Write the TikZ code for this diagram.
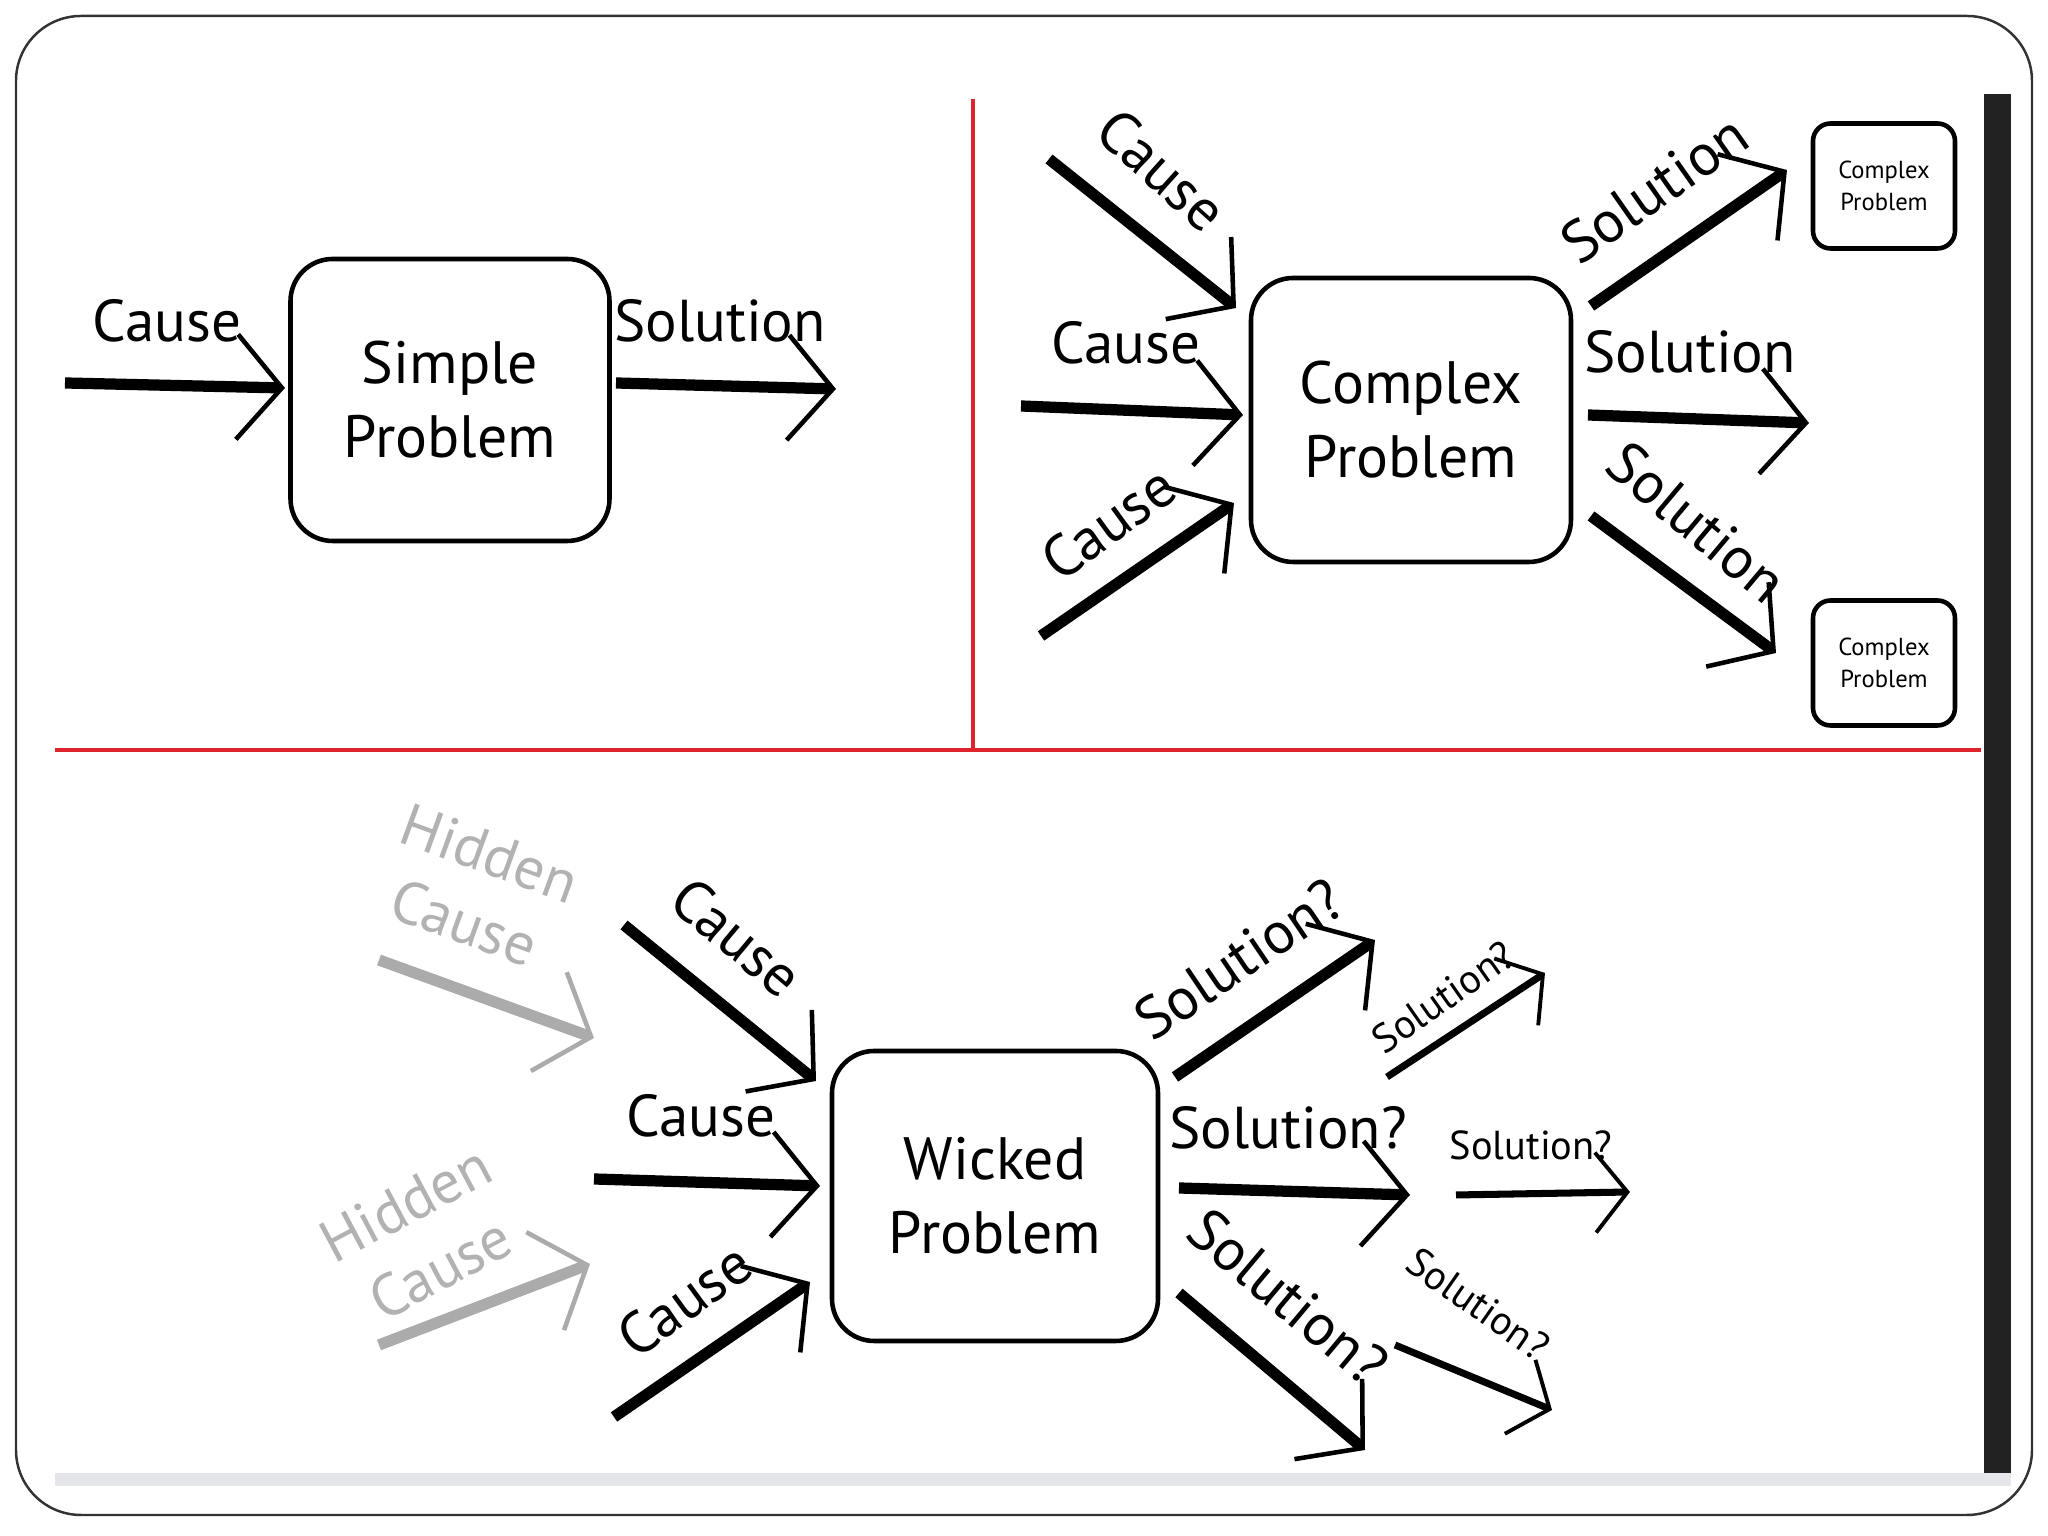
\documentclass[tikz,border=0pt]{standalone}
\usepackage{fontspec}
\setmainfont{PT Sans}
\usetikzlibrary{arrows.meta}

\definecolor{divred}{HTML}{E0242C}
\definecolor{barGray}{HTML}{222222}
\definecolor{bandGray}{HTML}{E4E6EA}

\tikzset{
  prob/.style={draw, line width=1.3pt, rounded corners=12pt, align=center,
    font=\fontsize{17}{21}\selectfont},
  minibox/.style={draw, line width=1.3pt, rounded corners=5pt, align=center,
    minimum width=1.42cm, minimum height=1.25cm, font=\fontsize{7}{9}\selectfont},
  lbl/.style={inner sep=0pt, font=\fontsize{16.8}{18}\selectfont},
  slbl/.style={inner sep=0pt, font=\fontsize{11.5}{12}\selectfont},
  hid/.style={inner sep=0pt, align=center, text=black!30, font=\fontsize{17}{21}\selectfont},
  bigarr/.style={line width=3.2pt, -{Straight Barb[length=0.45cm, width=1.05cm, line width=1.3pt]}},
  smallarr/.style={line width=2pt, -{Straight Barb[length=0.32cm, width=0.8cm, line width=1.1pt]}},
  hidarr/.style={bigarr, draw=black!33},
}

\begin{document}
\begin{tikzpicture}
  \useasboundingbox (0,0) rectangle (20.48,15.36);
  % slide frame
  \draw[line width=0.7pt, black!80, rounded corners=0.65cm] (0.16,0.21) rectangle (20.32,15.20);
  \fill[bandGray] (0.55,0.50) rectangle (20.11,0.63);
  \fill[barGray] (19.84,0.63) rectangle (20.11,14.42);
  \draw[divred, line width=1pt] (9.73,14.37) -- (9.73,7.86);
  \draw[divred, line width=1pt] (0.55,7.86) -- (19.81,7.86);

  % simple problem
  \node[prob, minimum width=3.19cm, minimum height=2.82cm] (sp) at (4.50,11.36) {Simple\\Problem};
  \coordinate (sc0) at (0.65,11.53);
  \coordinate (sc1) at (2.85,11.48);
  \coordinate (ss0) at (6.16,11.53);
  \coordinate (ss1) at (8.36,11.47);
  \draw[bigarr] (sc0) -- (sc1);
  \draw[bigarr] (ss0) -- (ss1);
  \node[lbl] (scl) at (1.67,12.15) {Cause};
  \node[lbl] (ssl) at (7.20,12.15) {Solution};

  % complex problem
  \node[prob, minimum width=3.20cm, minimum height=2.84cm] (cp) at (14.11,11.16) {Complex\\Problem};
  \node[minibox] (cpa) at (18.84,13.50) {Complex\\Problem};
  \node[minibox] (cpb) at (18.84,8.73) {Complex\\Problem};
  \coordinate (cc1a) at (10.49,13.77);
  \coordinate (cc1b) at (12.36,12.28);
  \coordinate (cc2a) at (10.21,11.30);
  \coordinate (cc2b) at (12.43,11.21);
  \coordinate (cc3a) at (10.41,9.00);
  \coordinate (cc3b) at (12.34,10.33);
  \coordinate (cs1a) at (15.91,12.30);
  \coordinate (cs1b) at (17.87,13.66);
  \coordinate (cs2a) at (15.88,11.21);
  \coordinate (cs2b) at (18.09,11.13);
  \coordinate (cs3a) at (15.91,10.20);
  \coordinate (cs3b) at (17.76,8.83);
  \draw[bigarr] (cc1a) -- (cc1b);
  \draw[bigarr] (cc2a) -- (cc2b);
  \draw[bigarr] (cc3a) -- (cc3b);
  \draw[bigarr] (cs1a) -- (cs1b);
  \draw[bigarr] (cs2a) -- (cs2b);
  \draw[bigarr] (cs3a) -- (cs3b);
  \node[lbl, rotate=-42] (cc1l) at (11.62,13.66) {Cause};
  \node[lbl] (cc2l) at (11.26,11.93) {Cause};
  \node[lbl, rotate=36] (cc3l) at (11.08,10.13) {Cause};
  \node[lbl, rotate=35] (cs1l) at (16.54,13.47) {Solution};
  \node[lbl] (cs2l) at (16.90,11.84) {Solution};
  \node[lbl, rotate=-40] (cs3l) at (16.97,10.14) {Solution};

  % wicked problem
  \node[prob, minimum width=3.26cm, minimum height=2.90cm] (wp) at (9.95,3.40) {Wicked\\Problem};
  \node[hid, rotate=-20] (wh1l) at (4.77,6.48) {Hidden\\Cause};
  \node[hid, rotate=28] (wh2l) at (4.23,3.00) {Hidden\\Cause};
  \coordinate (wh1a) at (3.79,5.76);
  \coordinate (wh1b) at (5.94,4.98);
  \coordinate (wh2a) at (3.79,1.91);
  \coordinate (wh2b) at (5.90,2.72);
  \draw[hidarr] (wh1a) -- (wh1b);
  \draw[hidarr] (wh2a) -- (wh2b);

  \coordinate (wc1a) at (6.24,6.11);
  \coordinate (wc1b) at (8.16,4.55);
  \coordinate (wc2a) at (5.94,3.57);
  \coordinate (wc2b) at (8.20,3.50);
  \coordinate (wc3a) at (6.14,1.19);
  \coordinate (wc3b) at (8.10,2.54);
  \draw[bigarr] (wc1a) -- (wc1b);
  \draw[bigarr] (wc2a) -- (wc2b);
  \draw[bigarr] (wc3a) -- (wc3b);
  \node[lbl, rotate=-40] (wc1l) at (7.37,5.99) {Cause};
  \node[lbl] (wc2l) at (7.01,4.20) {Cause};
  \node[lbl, rotate=36] (wc3l) at (6.84,2.36) {Cause};

  \coordinate (ws1a) at (11.75,4.59);
  \coordinate (ws1b) at (13.75,5.96);
  \coordinate (ws2a) at (11.79,3.48);
  \coordinate (ws2b) at (14.10,3.41);
  \coordinate (ws3a) at (11.79,2.43);
  \coordinate (ws3b) at (13.65,0.86);
  \draw[bigarr] (ws1a) -- (ws1b);
  \draw[bigarr] (ws2a) -- (ws2b);
  \draw[bigarr] (ws3a) -- (ws3b);
  \node[lbl, rotate=34] (ws1l) at (12.39,5.77) {Solution?};
  \node[lbl] (ws2l) at (12.88,4.08) {Solution?};
  \node[lbl, rotate=-40] (ws3l) at (12.88,2.39) {Solution?};

  % second round of solutions
  \coordinate (wt1a) at (13.87,4.59);
  \coordinate (wt1b) at (15.45,5.63);
  \coordinate (wt2a) at (14.56,3.41);
  \coordinate (wt2b) at (16.30,3.44);
  \coordinate (wt3a) at (13.95,1.91);
  \coordinate (wt3b) at (15.52,1.26);
  \draw[smallarr] (wt1a) -- (wt1b);
  \draw[smallarr] (wt2a) -- (wt2b);
  \draw[smallarr] (wt3a) -- (wt3b);
  \node[slbl, rotate=35] (wt1l) at (14.43,5.39) {Solution?};
  \node[slbl] (wt2l) at (15.31,3.91) {Solution?};
  \node[slbl, rotate=-35] (wt3l) at (14.78,2.32) {Solution?};
\end{tikzpicture}
\end{document}
